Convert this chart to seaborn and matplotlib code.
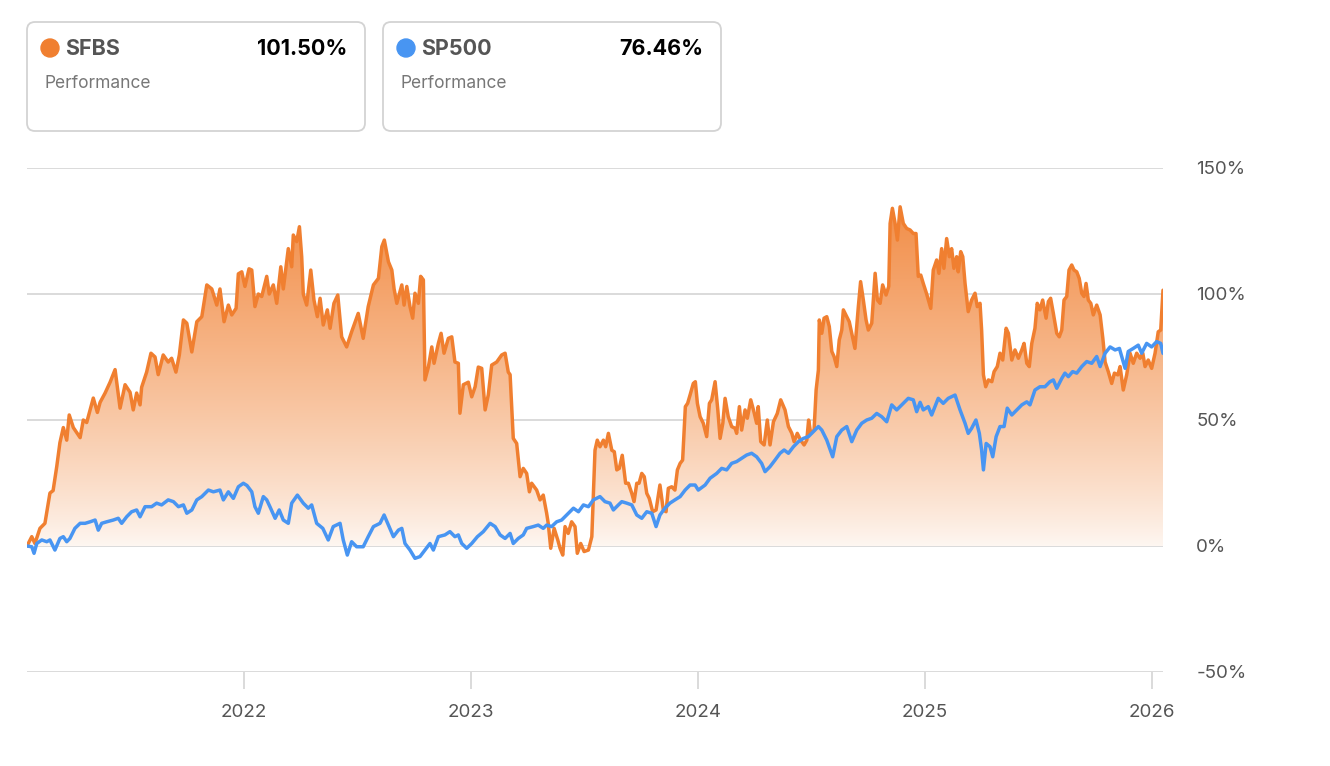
import numpy as np
import pandas as pd
import matplotlib
matplotlib.use("Agg")
import matplotlib.pyplot as plt
import seaborn as sns
from matplotlib.colors import to_rgb
from matplotlib.patches import FancyBboxPatch, Circle, PathPatch

# values (decimal year, cumulative performance in %)
sfbs_year = [
    2021.044, 2021.065, 2021.079, 2021.101, 2021.123, 2021.145, 2021.159, 2021.175, 2021.189, 2021.204,
    2021.219, 2021.230, 2021.248, 2021.278, 2021.292, 2021.307, 2021.322, 2021.336, 2021.354, 2021.366,
    2021.388, 2021.410, 2021.432, 2021.454, 2021.476, 2021.498, 2021.512, 2021.527, 2021.542, 2021.549,
    2021.571, 2021.590, 2021.608, 2021.622, 2021.644, 2021.666, 2021.681, 2021.700, 2021.715, 2021.733,
    2021.748, 2021.770, 2021.792, 2021.814, 2021.836, 2021.858, 2021.880, 2021.894, 2021.912, 2021.931,
    2021.946, 2021.965, 2021.975, 2021.990, 2022.004, 2022.022, 2022.034, 2022.048, 2022.063, 2022.078,
    2022.100, 2022.111, 2022.129, 2022.144, 2022.162, 2022.173, 2022.195, 2022.210, 2022.217, 2022.232,
    2022.244, 2022.254, 2022.261, 2022.276, 2022.294, 2022.308, 2022.323, 2022.335, 2022.349, 2022.367,
    2022.379, 2022.396, 2022.413, 2022.430, 2022.452, 2022.474, 2022.503, 2022.525, 2022.547, 2022.570,
    2022.592, 2022.607, 2022.618, 2022.636, 2022.651, 2022.661, 2022.673, 2022.695, 2022.705, 2022.717,
    2022.731, 2022.743, 2022.753, 2022.768, 2022.778, 2022.790, 2022.797, 2022.812, 2022.827, 2022.837,
    2022.856, 2022.868, 2022.881, 2022.900, 2022.915, 2022.929, 2022.944, 2022.951, 2022.966, 2022.988,
    2023.003, 2023.018, 2023.032, 2023.047, 2023.062, 2023.076, 2023.091, 2023.113, 2023.135, 2023.150,
    2023.164, 2023.172, 2023.186, 2023.201, 2023.216, 2023.230, 2023.245, 2023.257, 2023.267, 2023.289,
    2023.304, 2023.318, 2023.333, 2023.340, 2023.351, 2023.366, 2023.382, 2023.392, 2023.404, 2023.414,
    2023.428, 2023.443, 2023.458, 2023.468, 2023.483, 2023.498, 2023.517, 2023.532, 2023.546, 2023.556,
    2023.568, 2023.583, 2023.593, 2023.605, 2023.620, 2023.631, 2023.642, 2023.653, 2023.666, 2023.681,
    2023.693, 2023.708, 2023.718, 2023.730, 2023.740, 2023.752, 2023.763, 2023.774, 2023.785, 2023.800,
    2023.815, 2023.832, 2023.847, 2023.859, 2023.869, 2023.884, 2023.898, 2023.909, 2023.921, 2023.932,
    2023.944, 2023.954, 2023.965, 2023.979, 2023.988, 2023.997, 2024.009, 2024.023, 2024.038, 2024.050,
    2024.060, 2024.075, 2024.087, 2024.097, 2024.109, 2024.119, 2024.133, 2024.148, 2024.163, 2024.170,
    2024.182, 2024.192, 2024.207, 2024.217, 2024.232, 2024.246, 2024.258, 2024.265, 2024.276, 2024.291,
    2024.305, 2024.317, 2024.332, 2024.349, 2024.364, 2024.383, 2024.398, 2024.413, 2024.423, 2024.437,
    2024.452, 2024.467, 2024.479, 2024.487, 2024.496, 2024.511, 2024.520, 2024.530, 2024.534, 2024.545,
    2024.555, 2024.567, 2024.578, 2024.589, 2024.599, 2024.611, 2024.622, 2024.633, 2024.640, 2024.655,
    2024.666, 2024.677, 2024.691, 2024.706, 2024.716, 2024.728, 2024.740, 2024.750, 2024.765, 2024.780,
    2024.790, 2024.802, 2024.813, 2024.828, 2024.840, 2024.846, 2024.856, 2024.868, 2024.878, 2024.890,
    2024.904, 2024.919, 2024.934, 2024.948, 2024.960, 2024.970, 2024.981, 2024.992, 2025.007, 2025.025,
    2025.036, 2025.051, 2025.061, 2025.073, 2025.083, 2025.095, 2025.107, 2025.117, 2025.127, 2025.139,
    2025.146, 2025.157, 2025.166, 2025.176, 2025.190, 2025.205, 2025.220, 2025.230, 2025.242, 2025.249,
    2025.257, 2025.267, 2025.279, 2025.294, 2025.304, 2025.318, 2025.330, 2025.342, 2025.357, 2025.367,
    2025.382, 2025.396, 2025.411, 2025.426, 2025.436, 2025.448, 2025.459, 2025.470, 2025.484, 2025.494,
    2025.506, 2025.518, 2025.533, 2025.543, 2025.553, 2025.565, 2025.580, 2025.591, 2025.602, 2025.612,
    2025.624, 2025.634, 2025.646, 2025.656, 2025.668, 2025.679, 2025.690, 2025.700, 2025.709, 2025.719,
    2025.730, 2025.741, 2025.756, 2025.771, 2025.783, 2025.793, 2025.807, 2025.822, 2025.834, 2025.849,
    2025.859, 2025.873, 2025.888, 2025.903, 2025.917, 2025.932, 2025.947, 2025.959, 2025.969, 2025.983,
    2025.998, 2026.013, 2026.027, 2026.038, 2026.048,
]
sfbs_pct = [
    0, 3.7, 1, 7, 9, 21, 22, 31.5, 41, 47,
    42, 52, 47, 43, 50, 49, 54, 58.7, 53, 57,
    60.7, 65, 70, 54.7, 64, 61, 54, 60.7, 56, 63,
    69, 76.5, 75, 68, 75.8, 73, 74.5, 69, 75.8, 89.7,
    88.4, 77, 89, 91, 103.6, 102, 95.6, 102, 89, 95.6,
    91.7, 94.3, 108, 108.8, 103, 110, 109.5, 95, 100, 99,
    107, 100, 103.6, 96.3, 110.8, 102, 118, 110.8, 123.4, 120.8,
    126.7, 114.8, 100, 95.6, 109.5, 97.6, 91, 98.3, 87.7, 93.7,
    86.4, 96.3, 99.6, 83, 79, 85, 92.3, 82.4, 95, 103.6,
    106.2, 118.8, 121.4, 112.8, 109.5, 102, 96.3, 103.6, 95.6, 103,
    95, 90.4, 100.3, 96.3, 107, 105.6, 65.9, 71, 79, 72.5,
    80.4, 84.4, 76.5, 82.4, 83, 73, 72.5, 52.7, 64, 65,
    59.2, 63.2, 71, 70.5, 54, 60, 71.8, 73, 75.8, 76.5,
    69, 68, 42.7, 40.7, 27.5, 30.8, 28.8, 21.5, 24.9, 22.2,
    18.3, 20.2, 13, 9, -0.9, 7, 2.4, -0.9, -3.6, 7.7,
    5, 9.6, 7.7, -2.9, 1, -2.2, -1.6, 3.7, 38, 42,
    39.4, 42, 39.4, 44.7, 38, 37.4, 30.2, 30.8, 36, 24.9,
    24.9, 20.9, 17.6, 24.9, 24.9, 28.8, 27.5, 20.9, 18.9, 13.6,
    14.3, 24.2, 14.3, 13.6, 22.9, 23.5, 22.2, 30.2, 32.8, 34.1,
    55.3, 56.6, 60, 64.5, 65.2, 56.6, 51.3, 48.7, 43.4, 56.6,
    58, 65.2, 54, 42.7, 48.7, 58.6, 51.3, 47.4, 46.7, 44.7,
    55.3, 46, 54, 50.7, 58, 53.3, 48.7, 55.3, 41.4, 40.1,
    50, 40.1, 49.3, 52.6, 58, 54, 47.4, 44.7, 41.4, 44.7,
    42, 40.1, 42, 50, 44.7, 46, 61.9, 69.8, 89.7, 84.4,
    90.4, 91, 87.1, 77.2, 75.2, 71.2, 81.8, 85.7, 93.7, 91,
    89, 84.4, 78.4, 95, 104.9, 97.6, 89.7, 85.7, 88.4, 108.2,
    97.6, 96.3, 103.6, 99.6, 103, 128, 134, 128, 121.4, 134.6,
    128, 126, 125.4, 124, 124, 107, 107.5, 104.2, 100, 94.3,
    109.5, 113.5, 108.2, 118, 110.2, 122, 114.8, 118, 110.2, 114.8,
    108.8, 116.8, 114.8, 104.2, 93, 97.6, 100.3, 95, 96.3, 85.7,
    67.9, 63.2, 65.9, 65.2, 69.2, 71.2, 76.5, 73.8, 86.4, 84.4,
    73.8, 77.8, 74.5, 77.8, 80.4, 72.5, 71.2, 80.4, 86.4, 96.3,
    93.7, 97.6, 90.4, 97, 98.3, 92.3, 84.4, 83, 85.7, 97.6,
    99, 109.5, 111.5, 109.5, 108.8, 106.2, 100.3, 99, 104.2, 97.6,
    96.3, 91.7, 95.6, 91.7, 82.4, 73, 69.2, 64.5, 68.6, 67.9,
    71.2, 61.9, 67.9, 76.5, 72.5, 76.5, 74.5, 76.5, 71.2, 73.8,
    70.5, 76.5, 85, 85.7, 101.5,
]

sp500_year = [
    2021.044, 2021.065, 2021.075, 2021.087, 2021.109, 2021.131, 2021.145, 2021.167, 2021.189, 2021.204,
    2021.219, 2021.233, 2021.255, 2021.278, 2021.300, 2021.322, 2021.344, 2021.358, 2021.373, 2021.395,
    2021.424, 2021.446, 2021.461, 2021.483, 2021.505, 2021.527, 2021.542, 2021.564, 2021.593, 2021.615,
    2021.637, 2021.666, 2021.689, 2021.711, 2021.733, 2021.748, 2021.770, 2021.792, 2021.814, 2021.843,
    2021.865, 2021.894, 2021.909, 2021.931, 2021.953, 2021.975, 2021.997, 2022.013, 2022.034, 2022.048,
    2022.063, 2022.085, 2022.100, 2022.114, 2022.137, 2022.155, 2022.173, 2022.195, 2022.210, 2022.235,
    2022.261, 2022.283, 2022.298, 2022.320, 2022.347, 2022.371, 2022.393, 2022.423, 2022.437, 2022.455,
    2022.474, 2022.496, 2022.525, 2022.547, 2022.570, 2022.599, 2022.617, 2022.636, 2022.658, 2022.680,
    2022.695, 2022.709, 2022.731, 2022.753, 2022.775, 2022.797, 2022.819, 2022.834, 2022.856, 2022.885,
    2022.907, 2022.929, 2022.944, 2022.959, 2022.981, 2023.003, 2023.028, 2023.054, 2023.084, 2023.106,
    2023.128, 2023.150, 2023.172, 2023.186, 2023.208, 2023.230, 2023.245, 2023.274, 2023.296, 2023.318,
    2023.333, 2023.355, 2023.377, 2023.399, 2023.421, 2023.451, 2023.473, 2023.495, 2023.517, 2023.539,
    2023.568, 2023.590, 2023.612, 2023.627, 2023.649, 2023.664, 2023.686, 2023.708, 2023.730, 2023.752,
    2023.774, 2023.796, 2023.815, 2023.832, 2023.854, 2023.876, 2023.898, 2023.921, 2023.943, 2023.965,
    2023.987, 2024.001, 2024.031, 2024.053, 2024.082, 2024.104, 2024.126, 2024.148, 2024.170, 2024.192,
    2024.214, 2024.236, 2024.258, 2024.280, 2024.295, 2024.317, 2024.339, 2024.361, 2024.379, 2024.398,
    2024.420, 2024.442, 2024.464, 2024.486, 2024.508, 2024.530, 2024.545, 2024.567, 2024.593, 2024.611,
    2024.633, 2024.655, 2024.677, 2024.699, 2024.721, 2024.743, 2024.765, 2024.787, 2024.809, 2024.831,
    2024.853, 2024.875, 2024.904, 2024.926, 2024.948, 2024.963, 2024.978, 2024.992, 2025.014, 2025.029,
    2025.058, 2025.080, 2025.102, 2025.132, 2025.154, 2025.176, 2025.190, 2025.205, 2025.224, 2025.239,
    2025.249, 2025.257, 2025.269, 2025.286, 2025.298, 2025.313, 2025.330, 2025.348, 2025.362, 2025.382,
    2025.404, 2025.426, 2025.448, 2025.462, 2025.484, 2025.506, 2025.528, 2025.550, 2025.565, 2025.580,
    2025.602, 2025.616, 2025.631, 2025.650, 2025.668, 2025.690, 2025.712, 2025.734, 2025.756, 2025.771,
    2025.793, 2025.815, 2025.837, 2025.856, 2025.881, 2025.895, 2025.917, 2025.939, 2025.954, 2025.976,
    2025.998, 2026.020, 2026.038, 2026.048,
]
sp500_pct = [
    0, -0.3, -2.9, 1, 2.4, 1.7, 2.4, -1.6, 3, 3.7,
    1.7, 3, 7, 9, 9, 9.6, 10.3, 6.3, 9, 9.6,
    10.3, 11, 9, 11.6, 13.6, 14.3, 11.6, 15.6, 15.6, 17,
    16.3, 18.3, 17.6, 15.6, 16.3, 13, 14.3, 18.3, 19.6, 22.2,
    21.5, 22.2, 18.3, 21.5, 18.9, 23.5, 24.9, 24, 21.5, 15.6,
    13, 19.6, 18.3, 15.6, 11, 14.3, 10.3, 9, 17, 20.2,
    17, 15, 16.3, 9, 7, 2.4, 7.7, 9, 2.4, -3.6,
    1.7, -0.3, -0.3, 3.7, 7.7, 9, 12.3, 8.3, 3.7, 6.3,
    7, 1, -1.6, -4.9, -4.2, -1.6, 1, -1.6, 3.7, 4.4,
    5.7, 3.7, 4.4, 1, -0.9, 1, 3.7, 5.7, 9, 7.7,
    4.4, 3, 5, 1, 3, 4.4, 7, 7.7, 8.3, 7,
    8.3, 7.7, 9.6, 10.3, 12.3, 15, 13.6, 16.3, 15.6, 18.3,
    19.6, 17.6, 17, 14.3, 16.3, 17.6, 17, 16.3, 12.3, 11,
    13.6, 13, 7.7, 12.3, 15, 17, 18.3, 19.6, 22.2, 24.2,
    24.2, 22.2, 24.2, 26.9, 28.8, 30.8, 30.2, 32.8, 33.5, 34.8,
    36.1, 36.8, 35.4, 32.8, 29.5, 31.5, 34.1, 36.8, 38.1, 36.8,
    39.4, 41.4, 42.7, 43.4, 45.4, 47.4, 46, 42, 35.4, 43.4,
    46, 47.4, 41.4, 46, 48.7, 50, 50.7, 52.6, 51.3, 49.3,
    56, 54, 56.6, 58.6, 58, 53.3, 57, 54, 55.3, 52,
    58.6, 56.6, 58.6, 59.9, 54, 48.7, 44.7, 46.7, 50, 44.7,
    38.1, 30.2, 40.7, 39.4, 35.4, 43.4, 47.4, 47.4, 54.7, 52,
    54, 56, 57.2, 56, 61.9, 63.2, 63.2, 65.2, 65.9, 62.6,
    66.5, 68.6, 67.2, 69.2, 68.6, 71.2, 73.2, 72.5, 75.2, 71.2,
    76.5, 79, 77.8, 78.4, 70.5, 77.2, 78.4, 79.7, 76.5, 80.4,
    79, 81.1, 80.4, 76.46,
]

series_names = ["SFBS", "SP500"]
final_perf = ["101.50%", "76.46%"]
year_ticks = [2022, 2023, 2024, 2025, 2026]
pct_ticks = [-50, 0, 50, 100, 150]

ORANGE = "#f07f30"
BLUE = "#4895f2"
GRID = "#dadada"
TEXT = "#555555"

df = pd.concat([
    pd.DataFrame({"year": sfbs_year, "pct": sfbs_pct, "series": "SFBS"}),
    pd.DataFrame({"year": sp500_year, "pct": sp500_pct, "series": "SP500"}),
])

sns.set_style("white")
plt.rcParams["font.family"] = ["Inter", "DejaVu Sans"]

W, H = 1330, 766
fig = plt.figure(figsize=(W / 100, H / 100), dpi=100)
ax = fig.add_axes([27 / W, (H - 672) / H, (1163 - 27) / W, (672 - 168) / H])

x0, x1 = sfbs_year[0], sfbs_year[-1]

# opaque orange-to-white gradient under SFBS, clipped to the area between line and 0
ylo = min(0, min(sfbs_pct))
yhi = max(sfbs_pct)
frac = np.linspace(0, 1, 256)
mix = (0.02 + 0.86 * frac ** 0.8)[:, None, None]
img = np.ones((256, 1, 3)) * (1 - mix) + np.array(to_rgb(ORANGE))[None, None, :] * mix
im = ax.imshow(img, extent=[x0, x1, ylo, yhi], origin="lower", aspect="auto",
               interpolation="bilinear", zorder=1)
poly = ax.fill_between(sfbs_year, sfbs_pct, 0, color="none")
clip = PathPatch(poly.get_paths()[0], transform=ax.transData, fc="none", ec="none")
ax.add_patch(clip)
im.set_clip_path(clip)
poly.remove()

sns.lineplot(data=df, x="year", y="pct", hue="series", hue_order=series_names,
             palette=[ORANGE, BLUE], estimator=None, sort=False, linewidth=2.5,
             legend=False, ax=ax, zorder=3)
for ln in ax.lines:
    ln.set_solid_joinstyle("round")

ax.set_xlim(x0, x1)
ax.set_ylim(-50, 150)
ax.set_xlabel("")
ax.set_ylabel("")
for s in ax.spines.values():
    s.set_visible(False)

ax.set_yticks(pct_ticks)
ax.set_yticklabels([f"{v}%" for v in pct_ticks])
ax.yaxis.tick_right()
ax.yaxis.grid(True, color=GRID, linewidth=1.4)
ax.xaxis.grid(False)
ax.set_axisbelow(True)
ax.tick_params(axis="y", length=0, pad=24, labelsize=13.5, labelcolor=TEXT)

ax.set_xticks(year_ticks)
ax.set_xticklabels([str(y) for y in year_ticks])
ax.tick_params(axis="x", bottom=True, direction="out", length=12, width=1.4,
               color=GRID, pad=11, labelsize=13.5, labelcolor=TEXT)

# legend cards at the top
tr = fig.dpi_scale_trans


def pt(x, y):
    return x / 100, (H - y) / 100


cards = [(27, ORANGE), (383, BLUE)]
for (left, col), name, perf in zip(cards, series_names, final_perf):
    box = FancyBboxPatch(pt(left, 131), 338 / 100, 109 / 100,
                         boxstyle="round,pad=0,rounding_size=0.08",
                         transform=tr, fc="white", ec="#d3d3d3", lw=1.3)
    fig.add_artist(box)
    fig.add_artist(Circle(pt(left + 23, 48), 0.09, transform=tr, color=col))
    fig.text(*pt(left + 38, 49), name, transform=tr, ha="left", va="center",
             fontsize=15.5, fontweight="bold", color=TEXT)
    fig.text(*pt(left + 320, 49), perf, transform=tr, ha="right", va="center",
             fontsize=15.5, fontweight="bold", color="black")
    fig.text(*pt(left + 18, 83), "Performance", transform=tr, ha="left",
             va="center", fontsize=12.5, color="#777777")

fig.savefig("out.png", dpi=100)
